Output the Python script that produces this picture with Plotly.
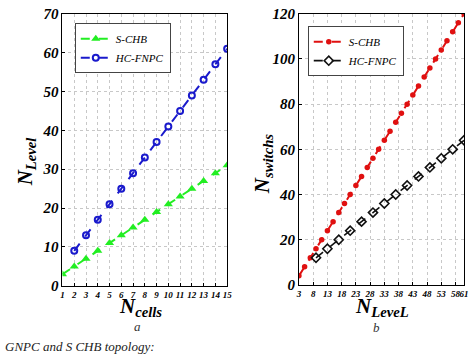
import plotly.graph_objects as go

# Panel a data
cells_schb = list(range(1, 16))
level_schb = [3, 5, 7, 9, 11, 13, 15, 17, 19, 21, 23, 25, 27, 29, 31]
cells_hc = list(range(2, 16))
level_hc = [9, 13, 17, 21, 25, 29, 33, 37, 41, 45, 49, 53, 57, 61]

# Panel b data
lvl_schb = list(range(3, 62, 2))
sw_schb = [4, 8, 12, 16, 20, 24, 28, 32, 36, 40, 44, 48, 52, 56, 60, 64, 68, 72, 76, 80,
           84, 88, 92, 96, 100, 104, 108, 112, 116, 120]
lvl_hc = [9, 13, 17, 21, 25, 29, 33, 37, 41, 45, 49, 53, 57, 61]
sw_hc = [12, 16, 20, 24, 28, 32, 36, 40, 44, 48, 52, 56, 60, 64]

xa_ticks = list(range(1, 16))
xb_ticks = [3, 8, 13, 18, 23, 28, 33, 38, 43, 48, 53, 58, 61]
ya_ticks = [0, 10, 20, 30, 40, 50, 60, 70]
yb_ticks = [0, 20, 40, 60, 80, 100, 120]

SERIF = "Liberation Serif"
W, H = 474, 354

fig = go.Figure()
fig.add_trace(go.Scatter(x=cells_schb, y=level_schb, name="S-CHB", mode="lines+markers",
                         line=dict(color="#22ee22", width=2, dash="dash"),
                         marker=dict(symbol="triangle-up", size=8, color="#22ee22"),
                         xaxis="x", yaxis="y", legend="legend"))
fig.add_trace(go.Scatter(x=cells_hc, y=level_hc, name="HC-FNPC", mode="lines+markers",
                         line=dict(color="#1a1acc", width=2, dash="dash"),
                         marker=dict(symbol="circle-open", size=6, color="#1a1acc",
                                     line=dict(width=2)),
                         xaxis="x", yaxis="y", legend="legend"))
fig.add_trace(go.Scatter(x=lvl_schb, y=sw_schb, name="S-CHB", mode="lines+markers",
                         line=dict(color="#e01010", width=2, dash="dash"),
                         marker=dict(symbol="circle", size=5.5, color="#e01010"),
                         xaxis="x2", yaxis="y2", legend="legend2"))
fig.add_trace(go.Scatter(x=lvl_hc, y=sw_hc, name="HC-FNPC", mode="lines+markers",
                         line=dict(color="#111111", width=1.6, dash="dash"),
                         marker=dict(symbol="diamond-open", size=7, color="#111111",
                                     line=dict(width=1.6)),
                         xaxis="x2", yaxis="y2", legend="legend2"))

def px_x(p):
    return p / W

def px_y(p):
    return 1 - p / H

tickfont = dict(family=SERIF, size=9, color="black", weight="bold", style="italic")
ytickfont = dict(family=SERIF, size=15, color="black", weight="bold", style="italic")
common = dict(showline=True, linecolor="black", linewidth=1, mirror=True,
              showgrid=True, gridcolor="#c8c8c8", griddash="dot", gridwidth=1,
              zeroline=False, ticks="inside", ticklen=3, tickcolor="black",
              ticklabeloverflow="allow")

legfont = dict(family=SERIF, size=11, style="italic", color="black")
fig.update_layout(
    width=W, height=H, margin=dict(l=0, r=0, t=0, b=0),
    paper_bgcolor="white", plot_bgcolor="white",
    xaxis=dict(domain=[px_x(60.5), px_x(228)], range=[0.999, 15.001], tickvals=xa_ticks,
               tickfont=tickfont, tickangle=0, anchor="y", **common),
    yaxis=dict(domain=[px_y(291), px_y(6)], range=[-0.001, 70.01], tickvals=ya_ticks,
               tickfont=ytickfont, anchor="x", **common),
    xaxis2=dict(domain=[px_x(301), px_x(469)], range=[2.999, 61.01], tickvals=xb_ticks,
                tickfont=tickfont, tickangle=0, anchor="y2", **common),
    yaxis2=dict(domain=[px_y(290), px_y(6)], range=[-0.001, 120.01], tickvals=yb_ticks,
                tickfont=ytickfont, anchor="x2", **common),
    legend=dict(x=px_x(73), y=px_y(16), xanchor="left", yanchor="top",
                bgcolor="white", bordercolor="#444", borderwidth=1,
                font=legfont, tracegroupgap=0, itemwidth=30),
    legend2=dict(x=px_x(310), y=px_y(19), xanchor="left", yanchor="top",
                 bgcolor="white", bordercolor="#444", borderwidth=1,
                 font=legfont, tracegroupgap=0, itemwidth=30),
    showlegend=True,
)

titlefont = dict(family=SERIF, size=21, color="black", weight="bold", style="italic")
anns = [
    dict(text="N<sub>Level</sub>", x=px_x(23), y=px_y(161), textangle=-90, font=titlefont),
    dict(text="N<sub>switchs</sub>", x=px_x(264), y=px_y(163), textangle=-90, font=titlefont),
    dict(text="N<sub>cells</sub>", x=px_x(140), y=px_y(313), font=titlefont),
    dict(text="N<sub>LeveL</sub>", x=px_x(385), y=px_y(313), font=titlefont),
    dict(text="a", x=px_x(137), y=px_y(334),
         font=dict(family=SERIF, size=13, style="italic", color="#333")),
    dict(text="b", x=px_x(380), y=px_y(335),
         font=dict(family=SERIF, size=13, style="italic", color="#333")),
    dict(text="GNPC and S CHB topology:", x=0, y=px_y(354), xanchor="left", yanchor="middle",
         font=dict(family=SERIF, size=13, style="italic", color="#222")),
]
for a in anns:
    a.setdefault("xanchor", "center")
    a.setdefault("yanchor", "middle")
    fig.add_annotation(xref="paper", yref="paper", showarrow=False, **a)

fig.write_html("out.html")
